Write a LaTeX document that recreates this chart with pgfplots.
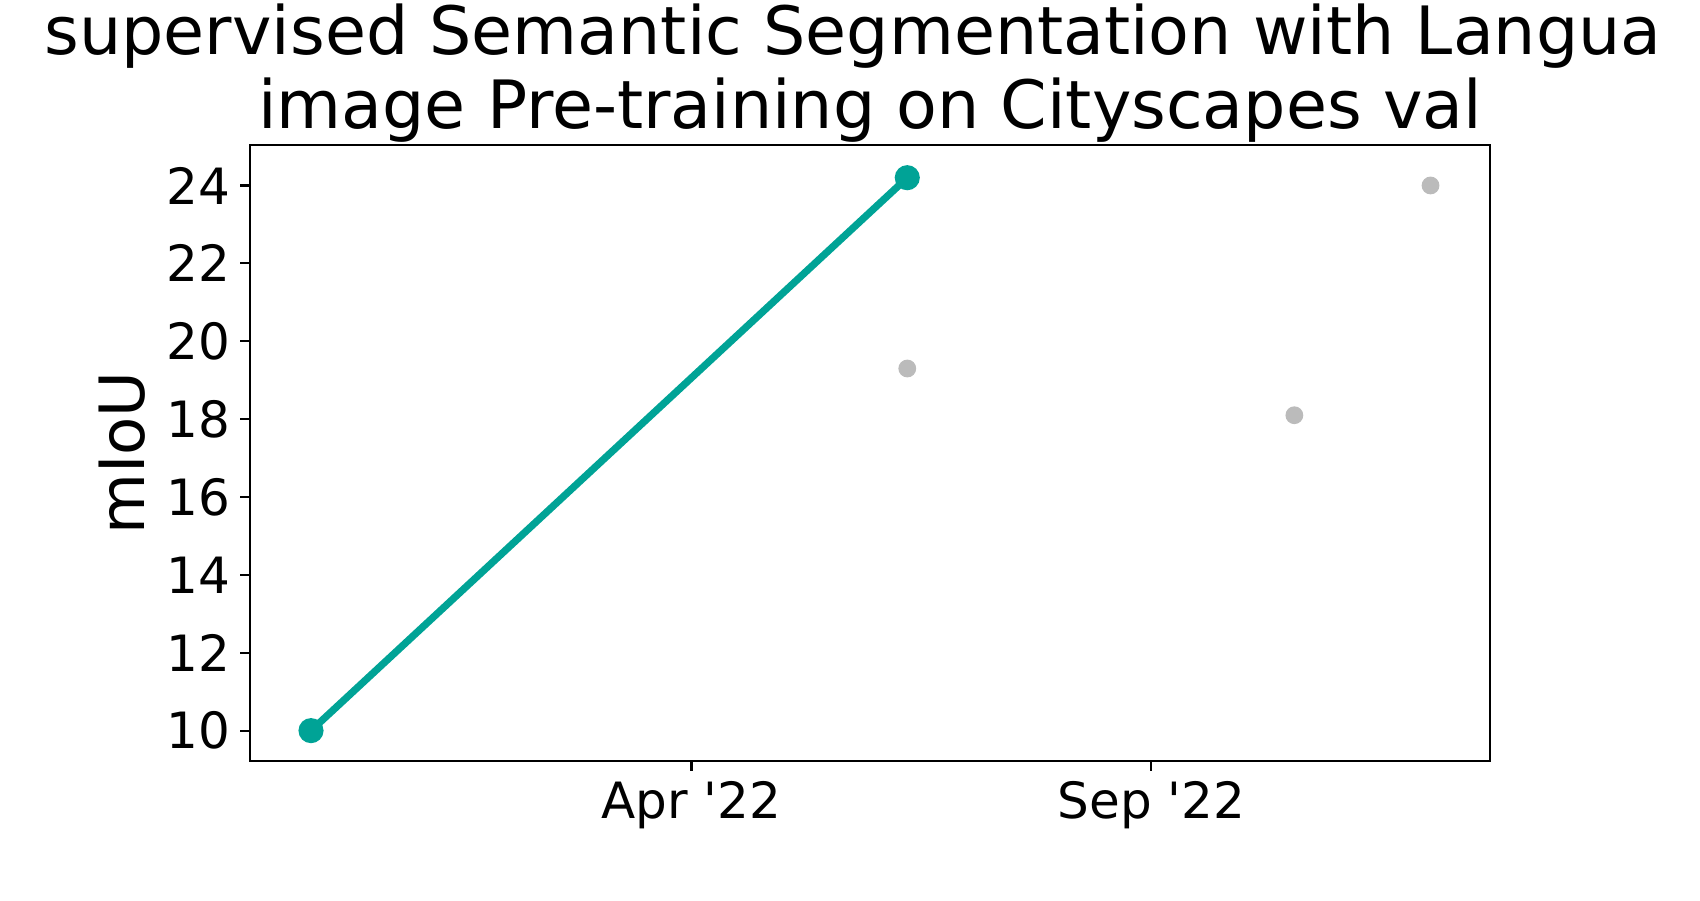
\documentclass[border=0pt]{standalone}
\usepackage{fontspec}
\setmainfont{DejaVu Sans}
\usepackage{pgfplots}
\pgfplotsset{compat=1.18}
\definecolor{tealline}{RGB}{0,163,150}
\definecolor{dotgray}{RGB}{187,187,187}
\begin{document}
\begin{tikzpicture}
\begin{axis}[
  scale only axis,
  width=446.4pt, height=221.76pt,
  xmin=-146.9, xmax=265.7,
  ymin=9.22, ymax=25.04,
  axis line style={line width=0.8pt},
  tick style={line width=0.8pt, black},
  tick align=outside,
  major tick length=3.5pt,
  xtick pos=left, ytick pos=left,
  xtick={0,153},
  xticklabels={Apr \textquotesingle22, Sep \textquotesingle22},
  ytick={10,12,...,24},
  /pgf/number format/assume math mode=true,
  ticklabel style={font=\fontsize{18}{21.6}\selectfont},
  xticklabel style={inner sep=0pt, yshift=-3.5pt},
  yticklabel style={inner sep=0pt, xshift=-3.5pt},
  ylabel={mIoU},
  ylabel style={font=\fontsize{22.5}{27}\selectfont, at={(axis description cs:0,0.5)},
    anchor=south, inner sep=0pt, yshift=37.3pt},
  every axis title/.style={at={(axis description cs:0.5,1)}, anchor=base,
    inner sep=0pt, yshift=6pt, align=center, font=\fontsize{24}{26.5}\selectfont},
  title={supervised Semantic Segmentation with Langua\rule{0.51em}{0pt}\\image Pre-training on Cityscapes val},
]
\addplot[dotgray, only marks, mark=*, mark size=3pt] coordinates {
  (71.8,19.3) (200.6,18.1) (245.9,24.0)
};
\addplot[tealline, line width=2.6pt, mark=*, mark size=3.2pt, mark options={solid}] coordinates {
  (-126.6,10.0) (71.8,24.2)
};
\coordinate (o) at (rel axis cs:0,0);
\end{axis}
\pgfresetboundingbox
\path ([shift={(-90pt,-50.04pt)}]o) rectangle ++(612pt,324pt);
\end{tikzpicture}
\end{document}
